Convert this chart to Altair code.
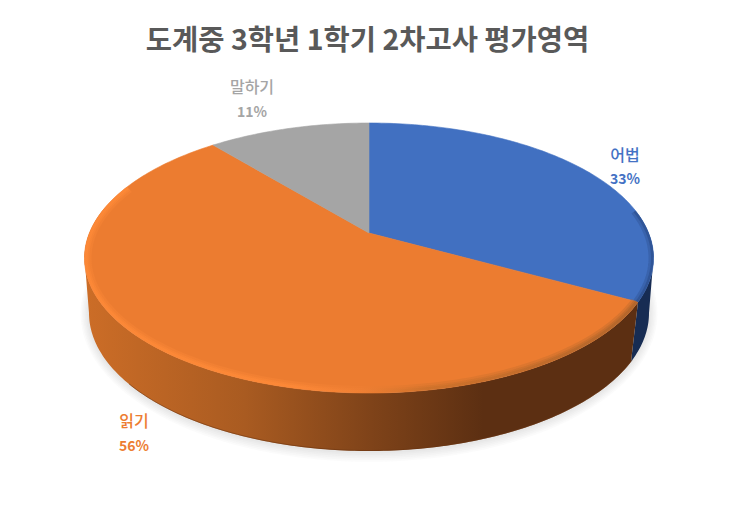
import math
import altair as alt
import pandas as pd

# ---- chart values ----
categories = ["어법", "읽기", "말하기"]
shares = [33, 56, 11]
pct_labels = ["33%", "56%", "11%"]
title_text = "도계중 3학년 1학기 2차고사 평가영역"
top_colors = ["#4170C1", "#EC7C30", "#A5A5A5"]
text_colors = ["#4472C4", "#ED7D31", "#A5A5A5"]
label_x = [625, 134, 252]
name_y = [156, 422, 88]
pct_y = [180, 447, 113]

# ---- geometry of the tilted disc (picture pixels) ----
CX, TOP_Y, A, B = 369.0, 258.0, 284.5, 135.0
APEX_Y = 233.0
BOT_Y, BOT_A, BOT_B = 313.0, 280.0, 138.0
K = (TOP_Y - APEX_Y) / B


def rim(phi_deg, a=A, b=B, cy=TOP_Y):
    """Point on the disc rim: perspective projection of a circle."""
    p = math.radians(phi_deg)
    u, v = math.sin(p), math.cos(p)
    d = 1 + K * v
    return (CX + a * u * math.sqrt(1 - K * K) / d, cy - b * (v + K) / d)


def ell(t_deg, a, b, cy, cx=CX):
    t = math.radians(t_deg)
    return (cx + a * math.sin(t), cy - b * math.cos(t))


def frame(pts):
    return pd.DataFrame({"x": [p[0] for p in pts], "y": [p[1] for p in pts], "i": range(len(pts))})


X = alt.X("x:Q", scale=alt.Scale(domain=[8, 727], nice=False, zero=False), axis=None)
Y = alt.Y("y:Q", scale=alt.Scale(domain=[518, 8], nice=False, zero=False), axis=None)


def poly(pts, fill, opacity=1.0, stroke=None):
    kw = dict(fill=fill, interpolate="linear", strokeWidth=0.6 if stroke else 0, fillOpacity=opacity, opacity=1)
    kw["stroke"] = stroke if stroke else "transparent"
    return alt.Chart(frame(pts)).mark_line(**kw).encode(x=X, y=Y, order="i:Q")


def grad(stops):
    return alt.LinearGradient(
        gradient="linear",
        x1=0, x2=1, y1=0, y2=0,
        stops=[alt.GradientStop(offset=o, color=c) for o, c in stops],
    )


def stroke_line(pts, stroke, width, opacity=1.0):
    return alt.Chart(frame(pts)).mark_line(
        stroke=stroke, strokeWidth=width, strokeOpacity=opacity, opacity=1, interpolate="linear", strokeCap="butt"
    ).encode(x=X, y=Y, order="i:Q")


# slice angles, clockwise from the top
edges = [0]
for s in shares:
    edges.append(edges[-1] + s * 360 / sum(shares))


def arc(a0, a1, **kw):
    n = max(2, int(abs(a1 - a0)))
    return [rim(a0 + (a1 - a0) * i / n, **kw) for i in range(n + 1)]


layers = []

# soft shadow under the disc
for k in range(1, 7):
    pts = [ell(t, BOT_A + 1.4 * k, BOT_B + 1.7 * k, BOT_Y + 0.6) for t in range(0, 361, 2)]
    layers.append(poly(pts, "#808080", opacity=0.035))

# side walls
corner_top = rim(edges[1])
t_corner = 180 - math.degrees(math.asin((corner_top[0] - 7 - CX) / BOT_A))
right_top, left_top = (CX + A, TOP_Y), (CX - A, TOP_Y)

blue_wall = arc(edges[1], 90 - 8) + [right_top, ell(90, BOT_A, BOT_B, BOT_Y)]
blue_wall += [ell(t, BOT_A, BOT_B, BOT_Y) for t in range(90, int(t_corner) + 1)] + [ell(t_corner, BOT_A, BOT_B, BOT_Y)]
layers.append(poly(blue_wall, "#172C53"))

orange_wall = arc(edges[1], 282) + [left_top, ell(270, BOT_A, BOT_B, BOT_Y)]
orange_wall += [ell(t, BOT_A, BOT_B, BOT_Y) for t in range(270, int(t_corner), -1)] + [ell(t_corner, BOT_A, BOT_B, BOT_Y)]
layers.append(
    poly(
        orange_wall,
        grad([(0, "#CC6D27"), (0.29, "#A95B21"), (0.517, "#7F4319"), (0.72, "#5C2F12"), (1, "#5C2F12")]),
    )
)

# thin dark line along the foot of the wall
layers.append(
    stroke_line(
        [ell(t, BOT_A, BOT_B - 0.5, BOT_Y) for t in range(int(t_corner), 240)],
        "#6B3512",
        0.8,
        0.7,
    )
)

# top faces
apex = (CX, APEX_Y)
for i, c in enumerate(top_colors):
    layers.append(poly([apex] + arc(edges[i], edges[i + 1]) + [apex], c, stroke=c))

# soft bevel on the front rim
rim_grad = grad([(0, "#FF8A38"), (0.38, "#FF8A38"), (0.5, "#F08034"), (0.62, "#C9702A"), (1, "#A9622A")])
layers.append(stroke_line(arc(edges[1], 292, a=A - 3.5, b=B - 3.5), rim_grad, 7.0, 0.3))
layers.append(stroke_line(arc(edges[1], 292, a=A - 2.5, b=B - 2.5), rim_grad, 4.5, 0.4))
layers.append(stroke_line(arc(edges[1], 292, a=A - 1.5, b=B - 1.5), rim_grad, 3.0, 0.6))
layers.append(stroke_line(arc(80, edges[1], a=A - 2.5, b=B - 2.5), "#2C508F", 5.0, 0.4))
layers.append(stroke_line(arc(80, edges[1], a=A - 1.2, b=B - 1.2), "#2C508F", 2.5, 0.7))

# labels
labels = pd.DataFrame(
    {"cat": categories, "pct": pct_labels, "x": label_x, "ny": name_y, "py": pct_y, "c": text_colors}
)
for field, yf, size, weight in [("cat", "ny", 16, 500), ("pct", "py", 14, "bold")]:
    layers.append(
        alt.Chart(labels)
        .mark_text(font="Noto Sans CJK KR", fontWeight=weight, fontSize=size, baseline="middle", align="center")
        .encode(
            x=X,
            y=alt.Y(f"{yf}:Q", scale=alt.Scale(domain=[518, 8], nice=False, zero=False), axis=None),
            text=f"{field}:N",
            color=alt.Color("c:N", scale=None),
        )
    )

chart = (
    alt.layer(*layers)
    .properties(
        width=719,
        height=510,
        padding=0,
        autosize=alt.AutoSizeParams(type="none"),
        background="white",
        title=alt.TitleParams(
            title_text,
            font="Noto Sans CJK KR",
            fontSize=28.5,
            fontWeight="bold",
            color="#595959",
            anchor="middle",
            offset=-47,
        ),
    )
    .configure_view(stroke=None)
)
chart.save("out.html", embed_options={"renderer": "svg", "actions": False})
